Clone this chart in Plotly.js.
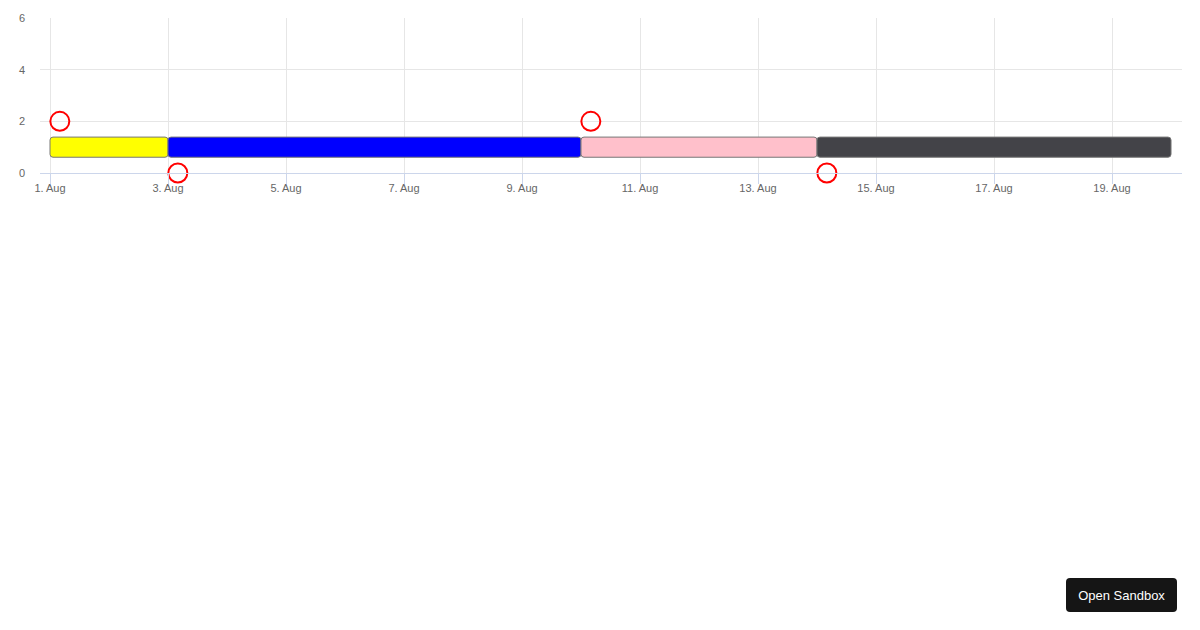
<!DOCTYPE html>
<html>
<head>
<meta charset="utf-8">
<script src="https://cdn.plot.ly/plotly-3.0.1.min.js"></script>
<style>
  html, body { margin: 0; padding: 0; background: #fff; }
  #chart { width: 1200px; height: 630px; }
  #sandbox {
    position: absolute; left: 1066px; top: 578px; width: 111px; height: 34px;
    background: #151515; color: #fff; border-radius: 4px;
    font: 13px "Liberation Sans", Arial, sans-serif;
    display: flex; align-items: center; justify-content: center;
  }
</style>
</head>
<body>
<div id="chart"></div>
<div id="sandbox">Open Sandbox</div>
<script>
// task segments
const starts = ['2024-08-01', '2024-08-03', '2024-08-10', '2024-08-14'];
const ends = ['2024-08-03', '2024-08-10', '2024-08-14', '2024-08-20'];
const rows = [1, 1, 1, 1];
const colors = ['#ffff00', '#0000ff', '#ffc0cb', '#434348'];

// red marker points
const pointX = ['2024-08-01 04:00', '2024-08-03 04:00', '2024-08-10 04:00', '2024-08-14 04:00'];
const pointY = [2, 0, 2, 0];

const DAY = 86400000;
const durations = starts.map((s, i) => new Date(ends[i]) - new Date(s));

const tickFont = { family: '"Liberation Sans", Arial, sans-serif', size: 11, color: '#666666' };

Plotly.newPlot('chart', [
  {
    type: 'bar',
    orientation: 'h',
    base: starts,
    x: durations,
    y: rows,
    width: 0.78,
    marker: { color: colors, line: { color: '#777777', width: 1 }, cornerradius: 3 },
    hoverinfo: 'skip'
  },
  {
    type: 'scatter',
    mode: 'markers',
    x: pointX,
    y: pointY,
    marker: { symbol: 'circle-open', size: 19, color: '#ff0000', line: { width: 2, color: '#ff0000' } },
    cliponaxis: false
  }
], {
  width: 1200,
  height: 630,
  margin: { l: 40, r: 18, t: 18, b: 457 },
  showlegend: false,
  paper_bgcolor: '#ffffff',
  plot_bgcolor: '#ffffff',
  xaxis: {
    type: 'date',
    range: ['2024-07-31 19:56', '2024-08-20 04:28'],
    dtick: 2 * DAY,
    tick0: '2024-08-01',
    tickformat: '%-d. %b',
    ticks: 'outside',
    ticklen: 10,
    tickcolor: '#ccd6eb',
    ticklabelstandoff: -5,
    showline: true,
    linecolor: '#ccd6eb',
    showgrid: true,
    gridcolor: '#e6e6e6',
    zeroline: false,
    tickfont: tickFont
  },
  yaxis: {
    range: [0, 6],
    dtick: 2,
    showgrid: true,
    gridcolor: '#e6e6e6',
    zeroline: false,
    showline: false,
    ticks: '',
    ticklabelstandoff: 14,
    tickfont: tickFont
  }
}, { displayModeBar: false, staticPlot: true });
</script>
</body>
</html>
